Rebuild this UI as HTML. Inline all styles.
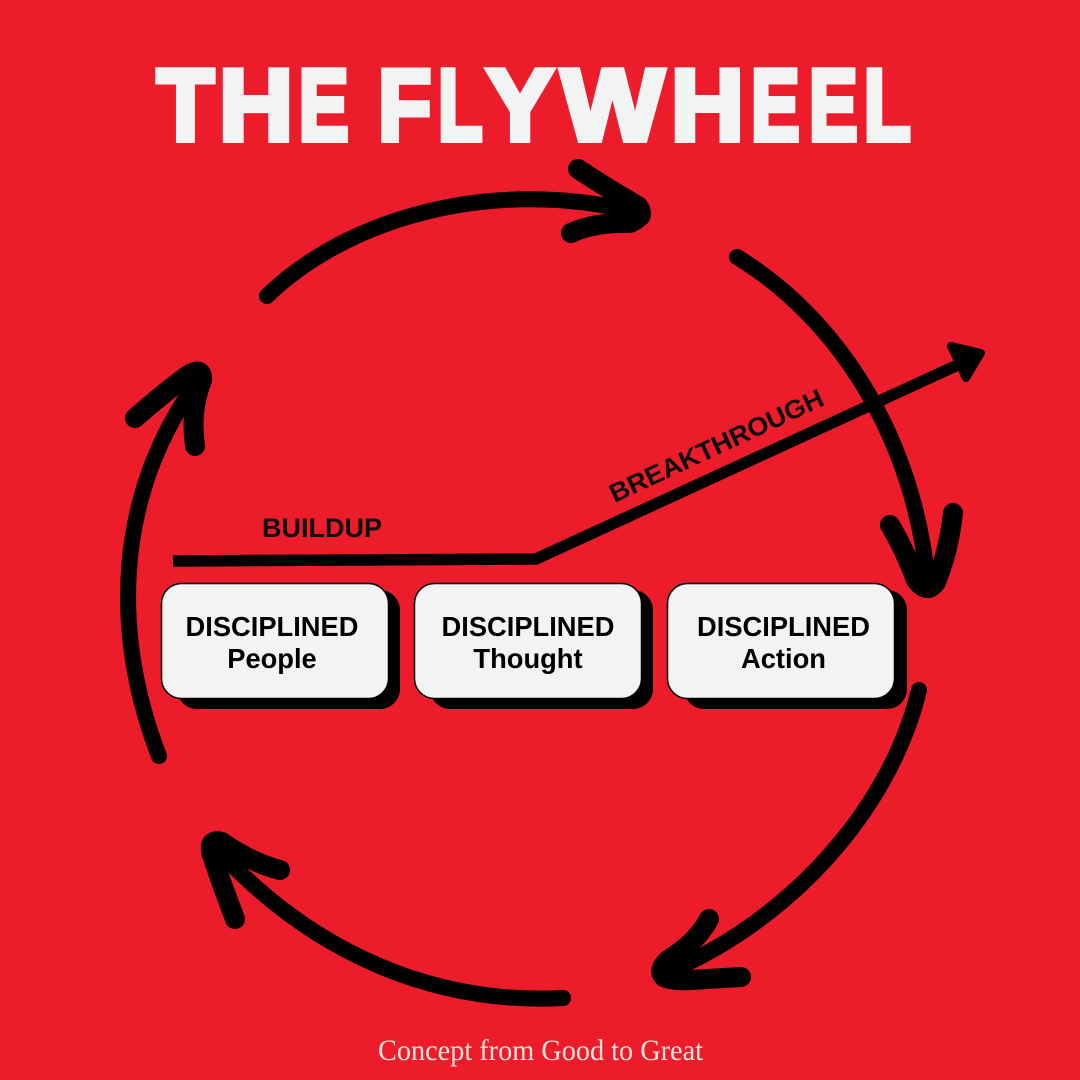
<!DOCTYPE html>
<html>
<head>
<meta charset="utf-8">
<style>
html,body{margin:0;padding:0;background:#ec1c2a;}
svg{display:block;}
</style>
</head>
<body>
<svg width="1080" height="1080" viewBox="0 0 1080 1080" xmlns="http://www.w3.org/2000/svg">
<rect width="1080" height="1080" fill="#ec1c2a"/>

<g font-family="Liberation Sans, sans-serif" font-weight="700" font-size="101" fill="#f2f3f3" stroke="#f2f3f3" stroke-width="6" stroke-linejoin="miter">
<text transform="translate(157 140) scale(.922 1)">T</text>
<text transform="translate(219 140) scale(1.015 1)">H</text>
<text transform="translate(298.800 140) scale(.74 1)">E</text>
<text transform="translate(378 140) scale(.864 1)">F</text>
<text transform="translate(438 140) scale(.721 1)">L</text>
<text transform="translate(486.600 140) scale(.992 1)">Y</text>
<text transform="translate(561.400 140) scale(1.073 1)">W</text>
<text transform="translate(671 140) scale(.998 1)">H</text>
<text transform="translate(751 140) scale(.722 1)">E</text>
<text transform="translate(809 140) scale(.722 1)">E</text>
<text transform="translate(863.800 140) scale(.76 1)">L</text>
</g>

<path d="M173 561 L536 559 L962 363" fill="none" stroke="#000" stroke-width="11.500"/>
<path d="M951 346 L981 353 L966 378 Z" fill="#000" stroke="#000" stroke-width="8" stroke-linejoin="round"/>

<g fill="none" stroke="#000" stroke-width="16" stroke-linecap="round" stroke-linejoin="round">
<path d="M267 296 C 345 220, 490 175, 640 213"/>
<path d="M737 257 C 840 320, 915 440, 928 585"/>
<path d="M919 690 C 890 810, 790 920, 668 972"/>
<path d="M563 998 C 430 1005, 310 950, 218 850"/>
<path d="M159 756 C 110 630, 116 490, 200 378"/>
</g>

<g fill="none" stroke="#000" stroke-width="20" stroke-linecap="round" stroke-linejoin="round">
<path d="M578 169 Q 610 190 638 206 Q 646 216 630 223 Q 595 222 571 233"/>
<path d="M890 525 Q 905 550 916 580 Q 927 595 936 582 Q 949 550 953 513"/>
<path d="M709 919 Q 697 942 668 960 Q 657 970 664 977 Q 672 981 690 980 L741 977"/>
<path d="M235 919 Q 222 885 212 855 Q 207 838 222 842 Q 250 862 280 870"/>
<path d="M135 418 Q 165 392 188 375 Q 203 366 202 380 Q 190 410 195 446"/>
</g>
<g fill="#000">
<circle cx="637" cy="214" r="14"/>
<circle cx="928" cy="584" r="13"/>
<circle cx="668" cy="971" r="15"/>
<circle cx="217" cy="847" r="14"/>
<circle cx="198" cy="378" r="13"/>
</g>

<text x="322" y="537" text-anchor="middle" font-family="Liberation Sans, sans-serif" font-weight="700" font-size="27" fill="#0d0d0d">BUILDUP</text>
<text transform="translate(614.500 503) rotate(-25)" font-family="Liberation Sans, sans-serif" font-weight="700" font-size="26" fill="#0d0d0d" textLength="233" lengthAdjust="spacingAndGlyphs">BREAKTHROUGH</text>

<g>
<rect x="177" y="590" width="223" height="119" rx="20" fill="#000"/>
<rect x="430" y="590" width="223" height="119" rx="20" fill="#000"/>
<rect x="684" y="590" width="223" height="119" rx="20" fill="#000"/>
<rect x="161.500" y="583.500" width="227" height="115" rx="20" fill="#f2f3f3" stroke="#000" stroke-width="1.500"/>
<rect x="414.500" y="583.500" width="227" height="115" rx="20" fill="#f2f3f3" stroke="#000" stroke-width="1.500"/>
<rect x="667.500" y="583.500" width="227" height="115" rx="20" fill="#f2f3f3" stroke="#000" stroke-width="1.500"/>
</g>

<g font-family="Liberation Sans, sans-serif" font-weight="700" font-size="27.300" fill="#000" text-anchor="middle">
<text x="272" y="636">DISCIPLINED</text>
<text x="272" y="668">People</text>
<text x="528" y="636">DISCIPLINED</text>
<text x="528" y="668">Thought</text>
<text x="783.500" y="636">DISCIPLINED</text>
<text x="783.500" y="668">Action</text>
</g>

<text x="378" y="1060" font-family="Liberation Serif, serif" font-size="30" fill="#f9e6dc" textLength="325" lengthAdjust="spacingAndGlyphs">Concept from Good to Great</text>
</svg>
</body>
</html>
